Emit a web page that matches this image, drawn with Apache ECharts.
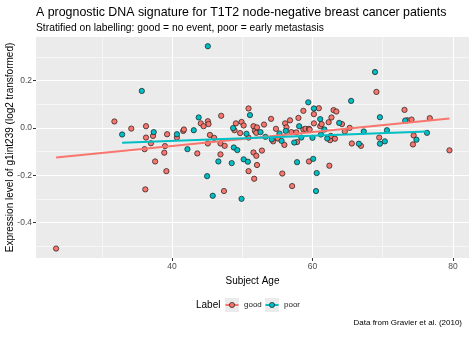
<!DOCTYPE html>
<html><head><meta charset="utf-8">
<script src="https://cdn.jsdelivr.net/npm/echarts@6/dist/echarts.min.js"></script>
<style>html,body{margin:0;padding:0;background:#fff}#c{width:474px;height:338px}</style>
</head><body><div id="c"></div>
<script>
// ---- data ----
const goodAge = [23.5,36.2,37.6,39.2,38.9,36.1,47.4,46.9,43.6,50.9,51.6,52.0,52.8,52.1,51.7,59.5,62.4,55.7,57.1,54.4,56.0,57.8,
  31.8,34.2,36.3,36.3,37.3,37.0,39.0,39.3,40.7,41.6,41.7,44.1,44.5,45.1,45.2,45.4,46.0,47.0,46.9,47.5,48.9,49.1,49.7,49.9,50.2,
  50.9,50.9,51.6,51.8,52.1,52.0,53.1,54.1,54.8,55.1,56.1,56.3,56.8,57.0,57.7,58.0,58.7,58.7,59.0,59.5,59.6,60.2,60.2,60.9,61.1,
  61.3,62.3,62.5,62.7,63.0,63.4,62.6,63.2,64.2,64.6,65.3,65.6,66.9,69.1,69.5,73.1,73.5,74.1,74.4,74.3,76.7,79.5,45.1];
const goodVal = [-0.51,-0.26,-0.142,-0.183,-0.105,-0.09,-0.267,-0.112,-0.108,-0.183,-0.104,-0.118,-0.096,-0.157,-0.215,-0.142,-0.16,-0.193,-0.246,-0.057,-0.072,-0.06,
  0.027,-0.003,0.007,-0.041,-0.034,-0.065,-0.077,-0.027,-0.041,-0.013,-0.007,0.019,0.007,0.028,0.016,-0.03,-0.042,0.051,-0.066,-0.076,-0.01,0.019,-0.022,0.025,0.01,
  0.082,-0.041,0.007,-0.013,0.002,-0.021,0.014,0.038,-0.004,-0.045,0.019,0.002,0.032,-0.018,-0.019,0.042,0.072,-0.007,-0.004,-0.004,-0.007,0.019,0.058,0.083,0.007,
  0.016,0.024,-0.052,0.044,0.075,0.069,-0.034,-0.046,0.016,-0.015,0.0,-0.066,-0.076,0.152,-0.041,0.076,0.032,0.035,-0.032,-0.07,0.041,-0.095,-0.066];
const poorAge = [45.1,35.7,45.0,45.8,49.9,46.6,48.5,50.2,50.8,48.8,49.3,57.8,60.1,60.6,60.5,57.4,32.9,37.4,40.7,42.2,43.1,43.8,48.7,50.6,
  51.1,52.6,53.3,54.2,55.3,55.6,56.2,58.1,58.4,59.4,60.0,60.2,61.1,61.2,61.7,62.1,63.8,65.5,66.6,67.3,68.9,69.6,69.6,70.3,70.6,73.2,74.8,76.3];
const poorVal = [0.345,0.156,-0.204,-0.287,-0.30,-0.142,-0.149,-0.133,-0.143,-0.083,-0.094,-0.145,-0.131,-0.191,-0.267,-0.062,-0.028,-0.018,-0.027,-0.09,-0.01,0.044,-0.001,-0.025,
  0.054,-0.018,-0.038,-0.049,-0.024,-0.055,-0.013,0.007,-0.041,0.108,-0.042,0.082,0.037,-0.028,-0.007,-0.045,0.021,0.114,-0.067,-0.015,0.236,0.045,-0.067,-0.057,-0.01,0.031,-0.05,-0.021];
// fitted linear trend endpoints
const goodFitAge = [23.5, 79.5];
const goodFitVal = [-0.125, 0.04];
const poorFitAge = [32.9, 76.3];
const poorFitVal = [-0.063, -0.015];
// ticks
const xMajor = [40, 60, 80];
const xMinor = [30, 50, 70];
const yMajor = [-0.4, -0.2, 0.0, 0.2];
const yMinor = [-0.5, -0.3, -0.1, 0.1, 0.3];
const labels = ['good', 'poor'];

const COL = {good: '#F8766D', poor: '#00BFC4'};
const FONT = '"Liberation Sans", Arial, sans-serif';
const pairs = (a, b) => a.map((v, i) => [v, b[i]]);

const chart = echarts.init(document.getElementById('c'), null, {renderer: 'canvas'});
const xMin = 20.64, xMax = 82.28, yMin = -0.550, yMax = 0.384;

function pointSeries(name, ax, vals) {
  return {type: 'scatter', name, data: pairs(ax, vals), symbolSize: 5.3, z: 2,
    itemStyle: {color: COL[name], borderColor: '#1a1a1a', borderWidth: 0.7, opacity: 1}};
}
function fitSeries(name, ax, vals) {
  return {type: 'line', name, data: pairs(ax, vals), showSymbol: false, z: 3, silent: true,
    lineStyle: {color: COL[name], width: 2}};
}

function key(x, name) {
  return [
    {type: 'rect', shape: {x: x, y: 298, width: 14, height: 14}, style: {fill: '#EBEBEB'}},
    {type: 'line', shape: {x1: x + 0.5, y1: 305, x2: x + 13.5, y2: 305}, style: {stroke: COL[name], lineWidth: 2}},
    {type: 'circle', shape: {cx: x + 7, cy: 305, r: 2.6}, style: {fill: COL[name], stroke: '#1a1a1a', lineWidth: 0.7}},
    {type: 'text', x: x + 19, y: 305, style: {text: name, font: '8px ' + FONT, fill: '#1a1a1a', textVerticalAlign: 'middle'}}
  ];
}

chart.setOption({
  animation: false,
  backgroundColor: '#ffffff',
  textStyle: {fontFamily: FONT},
  title: [
    {text: 'A prognostic DNA signature for T1T2 node-negative breast cancer patients', left: 31, top: 2,
     textStyle: {fontSize: 12.4, fontWeight: 'normal', color: '#000', fontFamily: FONT}},
    {text: 'Stratified on labelling: good = no event, poor = early metastasis', left: 31, top: 18.5,
     textStyle: {fontSize: 10.3, fontWeight: 'normal', color: '#000', fontFamily: FONT}}
  ],
  grid: {left: 36, right: 5, top: 37, bottom: 80, show: true, backgroundColor: '#EBEBEB', borderWidth: 0,
         outerBoundsMode: 'none', containLabel: false},
  xAxis: [
    {type: 'value', min: xMin, max: xMax, position: 'bottom',
     name: 'Subject Age', nameLocation: 'middle', nameGap: 12.5,
     nameTextStyle: {fontSize: 10, color: '#000', fontFamily: FONT},
     axisLine: {show: false, onZero: false},
     axisTick: {show: true, length: 3, lineStyle: {color: '#333', width: 1}, customValues: xMajor},
     axisLabel: {color: '#4D4D4D', fontSize: 8.5, margin: 4, customValues: xMajor, fontFamily: FONT},
     splitLine: {show: true, lineStyle: {color: '#fff', width: 1.1}}},
    {type: 'value', min: xMin, max: xMax, position: 'top',
     axisLine: {show: false, onZero: false}, axisLabel: {show: false},
     axisTick: {show: false, customValues: xMinor},
     splitLine: {show: true, lineStyle: {color: '#fff', width: 0.55}}}
  ],
  yAxis: [
    {type: 'value', min: yMin, max: yMax, position: 'left',
     name: 'Expression level of g1int239 (log2 transformed)', nameLocation: 'middle', nameGap: 21,
     nameMoveOverlap: false,
     nameTextStyle: {fontSize: 10, color: '#000', fontFamily: FONT},
     axisLine: {show: false, onZero: false},
     axisTick: {show: true, length: 3, lineStyle: {color: '#333', width: 1}, customValues: yMajor},
     axisLabel: {color: '#4D4D4D', fontSize: 8.5, margin: 4, customValues: yMajor, fontFamily: FONT,
       formatter: v => v.toFixed(1)},
     splitLine: {show: true, lineStyle: {color: '#fff', width: 1.1}}},
    {type: 'value', min: yMin, max: yMax, position: 'right',
     axisLine: {show: false, onZero: false}, axisLabel: {show: false},
     axisTick: {show: false, customValues: yMinor},
     splitLine: {show: true, lineStyle: {color: '#fff', width: 0.55}}}
  ],
  series: [
    pointSeries('good', goodAge, goodVal),
    pointSeries('poor', poorAge, poorVal),
    fitSeries('good', goodFitAge, goodFitVal),
    fitSeries('poor', poorFitAge, poorFitVal)
  ],
  graphic: [
    {type: 'text', x: 196, y: 305, style: {text: 'Label', font: '10px ' + FONT, fill: '#000', textVerticalAlign: 'middle'}},
    ...key(225, labels[0]),
    ...key(265, labels[1]),
    {type: 'text', x: 462, y: 323, style: {text: 'Data from Gravier et al. (2010)', font: '8px ' + FONT, fill: '#000', textAlign: 'right', textVerticalAlign: 'middle'}}
  ]
});
</script>
</body></html>
